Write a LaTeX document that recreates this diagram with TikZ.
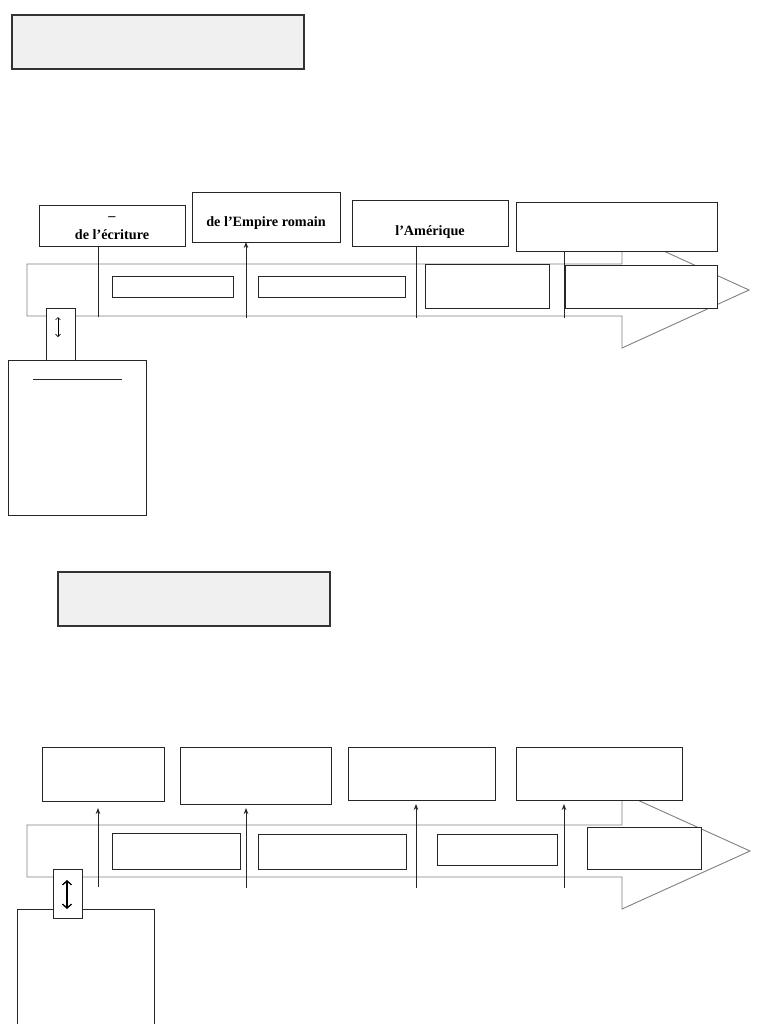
\documentclass[tikz,border=0pt]{standalone}
\usepackage{fontspec}
\setmainfont{Liberation Serif}
\usetikzlibrary{arrows.meta}
\newcommand{\mybox}[6]{\node[#6, minimum width={#4-#2}, minimum height={#5-#3}] (#1) at (#2,#3) {};}
\begin{document}
\begin{tikzpicture}[x=1pt,y=-1pt,
  box/.style={draw=black!85, line width=0.9pt, fill=white, inner sep=0pt, outer sep=0pt, anchor=north west},
  titlebox/.style={draw=black!80, line width=1.1pt, fill=black!6, inner sep=0pt, outer sep=0pt, anchor=north west},
  shaft/.style={draw=black!50, line width=0.9pt, fill=white},
  tick/.style={draw=black!85, line width=0.8pt},
  tickup/.style={tick, -{Stealth[length=6pt,width=4.5pt]}},
  lbl/.style={font=\bfseries\fontsize{14.2}{19}\selectfont, align=center, inner sep=0pt},
  updown/.style={line width=0.7pt, {Straight Barb[length=2.5pt,width=5pt]}-{Straight Barb[length=2.5pt,width=5pt]}},
  updownbig/.style={line width=1.3pt, {Straight Barb[length=4pt,width=9pt]}-{Straight Barb[length=4pt,width=9pt]}}
]
\useasboundingbox (0,0) rectangle (768,1024);
\fill[white] (0,0) rectangle (768,1024);

% ---------- first title ----------
\mybox{T1}{12}{15}{304}{69}{titlebox}

% ---------- first timeline ----------
\draw[shaft] (27,264) -- (622,264) -- (622,232) -- (749,290) -- (622,348) -- (622,316) -- (27,316) -- cycle;

\mybox{A1}{39}{205}{185}{246}{box}
\mybox{B1}{192}{192}{340}{242}{box}
\mybox{C1}{352}{200}{508}{246}{box}
\mybox{D1}{516}{202}{717}{251}{box}

\node[lbl] (tA1) at (112,228) {–\\de l’écriture};
\node[lbl] (tB1) at (266,223) {de l’Empire romain};
\node[lbl] (tC1) at (430,232) {l’Amérique};

\coordinate (k1) at (98,317);
\coordinate (k2) at (246,318);
\coordinate (k3) at (416,318);
\coordinate (k4) at (564,318);
\draw[tick] (k1) -- (k1 |- A1.south);
\draw[tickup] (k2) -- (k2 |- B1.south);
\draw[tick] (k3) -- (k3 |- C1.south);
\draw[tick] (k4) -- (k4 |- D1.south);

\mybox{b1}{112}{276}{233}{297}{box}
\mybox{b2}{258}{276}{405}{297}{box}
\mybox{b3}{425}{264}{549}{308}{box}
\mybox{b4}{565}{265}{717}{308}{box}

\mybox{L1}{8}{360}{146}{515}{box}
\mybox{s1}{46}{308}{75}{360}{box}
\coordinate (u1) at (58,317);
\coordinate (u2) at (58,337);
\draw[updown] (u1) -- (u2);
\coordinate (h1) at (33,379);
\coordinate (h2) at (122,379);
\draw[line width=0.9pt, black!85] (h1) -- (h2);

% ---------- second title ----------
\mybox{T2}{58}{572}{330}{626}{titlebox}

% ---------- second timeline ----------
\draw[shaft] (27,825) -- (622,825) -- (622,793) -- (750,851) -- (622,909) -- (622,877) -- (27,877) -- cycle;

\mybox{A2}{42}{747}{164}{801}{box}
\mybox{B2}{180}{747}{331}{804}{box}
\mybox{C2}{348}{747}{495}{800}{box}
\mybox{D2}{516}{747}{682}{800}{box}

\mybox{c1}{112}{833}{240}{869}{box}
\mybox{c2}{258}{834}{406}{869}{box}
\mybox{c3}{437}{834}{557}{865}{box}
\mybox{c4}{587}{827}{701}{869}{box}

\coordinate (m1) at (98,887);
\coordinate (m2) at (246,888);
\coordinate (m3) at (416,888);
\coordinate (m4) at (564,888);
\draw[tickup, shorten >=7pt] (m1) -- (m1 |- A2.south);
\draw[tickup, shorten >=4pt] (m2) -- (m2 |- B2.south);
\draw[tickup, shorten >=4pt] (m3) -- (m3 |- C2.south);
\draw[tickup, shorten >=4pt] (m4) -- (m4 |- D2.south);

\mybox{L2}{17}{909}{154}{1032}{box}
\mybox{s2}{53}{869}{82}{918}{box}
\coordinate (v1) at (67,880);
\coordinate (v2) at (67,909);
\draw[updownbig] (v1) -- (v2);
\end{tikzpicture}
\end{document}
